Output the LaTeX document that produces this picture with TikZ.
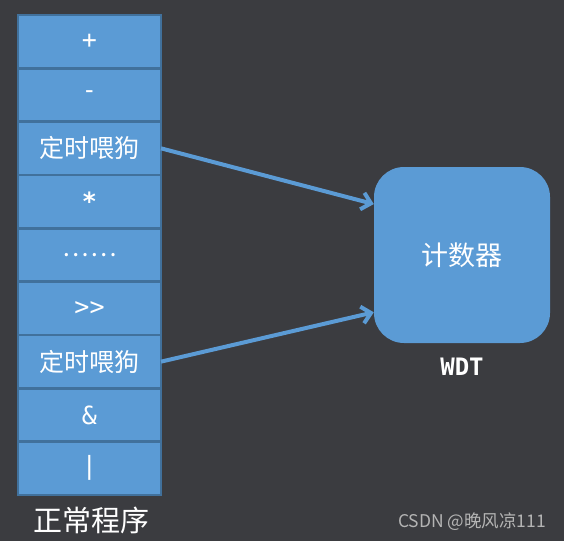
\documentclass[tikz,border=0pt]{standalone}
\usepackage{fontspec}
\setmainfont{DejaVu Sans Mono}
\newfontfamily\cjk{Noto Sans CJK SC}
\usetikzlibrary{arrows.meta, positioning}
\definecolor{bgdark}{HTML}{3B3C40}
\definecolor{cellblue}{HTML}{5B9BD5}
\definecolor{celledge}{HTML}{41719C}
\definecolor{wmgray}{HTML}{B4B4B4}

\begin{document}
\begin{tikzpicture}[x=1pt, y=-1pt,
  cell/.style={draw=celledge, fill=cellblue, line width=2.5pt, outer sep=0pt, inner sep=0pt,
    minimum width=143pt, minimum height=53.33pt, text=white, font=\fontsize{25}{28}\selectfont},
  counter/.style={fill=cellblue, rounded corners=30pt, minimum width=176pt, minimum height=176pt,
    text=white, font=\cjk\fontsize{27}{32}\selectfont},
  feed/.style={draw=cellblue, line width=4pt, -{Straight Barb[length=9pt, width=17pt]}}]

  % Background
  \fill[bgdark] (0,0) rectangle (564,541);
  \useasboundingbox (0,0) rectangle (564,541);

  % Normal program stack
  \node[cell, anchor=north] (c1) at (89.5,15) {+};
  \node[cell, below=0pt of c1] (c2) {-};
  \node[cell, below=0pt of c2] (c3) {\cjk\fontsize{25}{30}\selectfont 定时喂狗};
  \node[cell, below=0pt of c3] (c4) {\bfseries *};
  \node[cell, below=0pt of c4] (c5) {\cjk …\hspace{2pt}…};
  \node[cell, below=0pt of c5] (c6) {>{}>};
  \node[cell, below=0pt of c6] (c7) {\cjk\fontsize{25}{30}\selectfont 定时喂狗};
  \node[cell, below=0pt of c7] (c8) {\&};
  \node[cell, below=0pt of c8] (c9) {|};
  \node[text=white, font=\cjk\fontsize{29}{33}\selectfont] (prog) at (91,520) {正常程序};

  % Watchdog counter
  \node[counter] (wdt) at (462,255) {计数器};
  \node[text=white, font=\bfseries\fontsize{24}{28}\selectfont] (wdtname) at (462,367) {WDT};

  % Feeding the dog
  \draw[feed] (c3.east) -- (wdt.150);
  \draw[feed] (c7.east) -- (wdt.213);

  % Watermark
  \node[text=wmgray, font=\cjk\fontsize{17.5}{21}\selectfont] (mark) at (472,522) {CSDN @晚风凉111};
\end{tikzpicture}
\end{document}
